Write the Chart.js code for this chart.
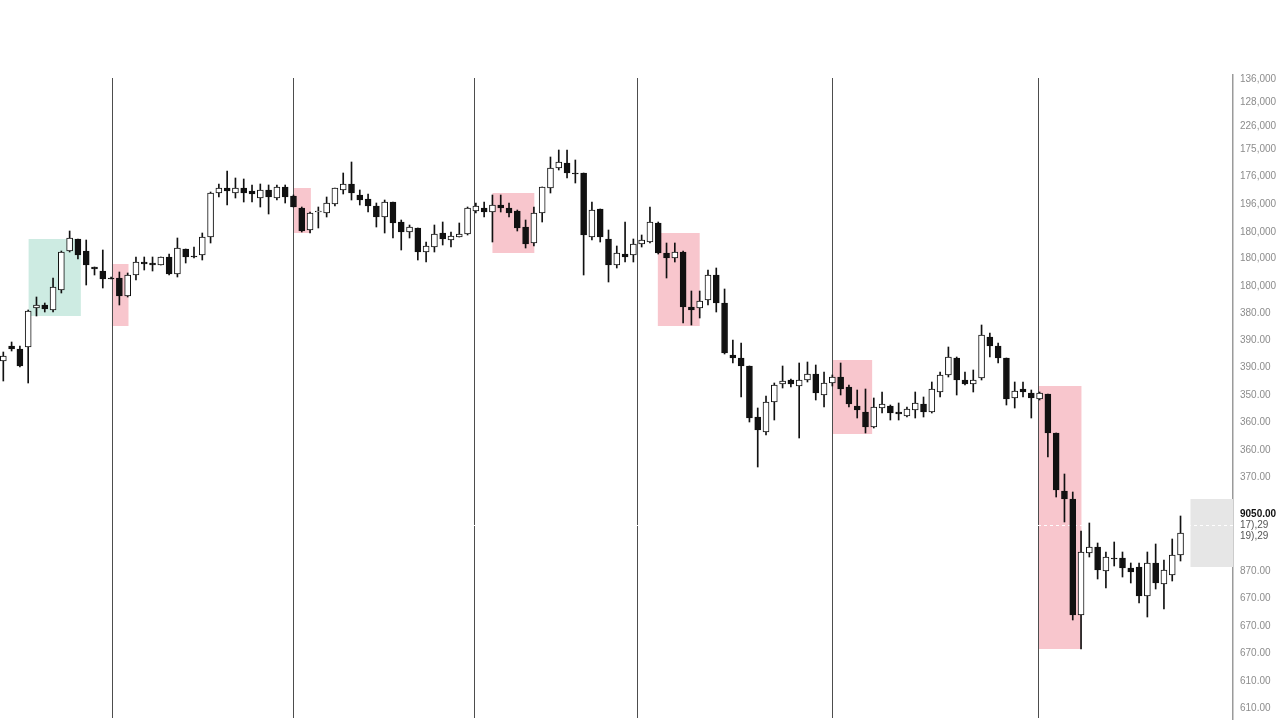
<!DOCTYPE html>
<html>
<head>
<meta charset="utf-8">
<script src="https://cdn.jsdelivr.net/npm/chart.js@4.4.1/dist/chart.umd.min.js"></script>
<style>
  html, body { margin: 0; padding: 0; background: #fff; }
  canvas { display: block; }
</style>
</head>
<body>
<canvas id="candles" width="1280" height="720"></canvas>
<script>
// candle values, one entry per bar, oldest first
const candleOpen = [
  359, 374, 371, 373, 412, 415, 410, 430, 469, 481,
  469, 453, 449, 442, 442, 424, 445, 458, 457, 455,
  463, 446, 471, 464, 465, 483, 527, 532, 527, 532,
  529, 522, 530, 522, 533, 524, 512, 490, 508, 507,
  516, 530, 536, 525, 521, 514, 503, 518, 498, 488,
  492, 468, 473, 487, 480, 483, 486, 509, 512, 508,
  515, 512, 509, 493, 477, 507, 532, 552, 557, 547,
  547, 483, 511, 481, 455, 466, 465, 476, 478, 497,
  467, 462, 468, 413, 412, 420, 445, 417, 365, 362,
  354, 303, 288, 318, 336, 340, 334, 340, 346, 325,
  337, 343, 333, 314, 308, 293, 312, 314, 308, 304,
  310, 316, 308, 328, 345, 362, 340, 336, 342, 383,
  374, 362, 322, 331, 327, 321, 326, 287, 229, 221,
  105, 167, 173, 149, 162, 162, 152, 153, 124, 157,
  136, 145, 165
];
const candleHigh = [
  368, 378, 374, 410, 423, 417, 442, 469, 489, 481,
  480, 453, 470, 443, 448, 447, 463, 463, 463, 463,
  466, 482, 471, 473, 487, 528, 536, 549, 542, 541,
  535, 536, 535, 535, 535, 525, 513, 508, 513, 523,
  532, 547, 558, 530, 526, 517, 520, 518, 500, 495,
  492, 478, 495, 498, 488, 497, 513, 517, 518, 525,
  525, 517, 510, 500, 513, 533, 563, 570, 570, 560,
  547, 518, 511, 490, 474, 498, 481, 485, 513, 498,
  477, 477, 469, 429, 429, 450, 452, 431, 380, 377,
  354, 312, 324, 337, 354, 341, 357, 358, 355, 348,
  345, 357, 335, 330, 331, 322, 328, 315, 317, 313,
  328, 323, 338, 348, 373, 363, 348, 350, 395, 387,
  377, 362, 338, 338, 330, 328, 326, 287, 246, 228,
  189, 197, 177, 168, 178, 168, 157, 157, 168, 176,
  160, 181, 204
];
const candleLow = [
  339, 369, 353, 337, 404, 408, 408, 427, 468, 461,
  435, 445, 432, 441, 415, 423, 440, 450, 449, 455,
  445, 443, 457, 462, 460, 477, 523, 515, 522, 518,
  518, 513, 506, 520, 517, 513, 488, 487, 492, 503,
  514, 526, 520, 515, 508, 493, 487, 482, 470, 482,
  460, 458, 468, 475, 473, 483, 485, 507, 503, 478,
  508, 503, 489, 472, 474, 498, 527, 550, 542, 537,
  445, 480, 478, 438, 452, 458, 458, 473, 477, 466,
  442, 458, 397, 395, 402, 415, 408, 366, 357, 323,
  298, 253, 285, 300, 332, 333, 282, 338, 320, 313,
  334, 325, 313, 302, 287, 292, 307, 300, 300, 303,
  302, 303, 307, 323, 343, 325, 335, 328, 340, 363,
  357, 315, 312, 323, 302, 320, 263, 223, 198, 100,
  71, 163, 141, 132, 154, 143, 137, 117, 103, 131,
  111, 139, 159
];
const candleClose = [
  364, 371, 354, 409, 415, 411, 433, 468, 482, 465,
  455, 451, 441, 441, 424, 445, 458, 456, 455, 463,
  446, 472, 463, 463, 483, 527, 532, 529, 532, 527,
  526, 530, 523, 533, 523, 513, 489, 507, 509, 517,
  532, 536, 527, 520, 514, 503, 518, 497, 488, 493,
  468, 474, 486, 481, 484, 486, 512, 514, 508, 515,
  512, 507, 492, 476, 507, 533, 552, 558, 547, 546,
  485, 510, 483, 455, 467, 463, 476, 480, 498, 467,
  462, 468, 413, 410, 419, 445, 417, 367, 362, 354,
  302, 290, 318, 335, 339, 336, 340, 346, 327, 337,
  343, 331, 316, 310, 293, 313, 316, 307, 306, 311,
  317, 308, 331, 345, 363, 340, 336, 340, 385, 374,
  362, 321, 329, 328, 322, 327, 287, 230, 221, 105,
  168, 173, 150, 163, 161, 152, 148, 124, 157, 137,
  150, 165, 187
];

// right axis ticks (labels as printed on the chart)
const tickValues = [641, 618, 594, 571, 544, 516, 488, 462, 434, 407, 380, 353, 325, 298, 270, 243, 149, 122, 94, 67, 39, 12];
const tickLabels = [
  '136,000', '128,000', '226,000', '175,000', '176,000', '196,000', '180,000', '180,000', '180,000',
  '380.00', '390.00', '390.00', '350.00', '360.00', '360.00', '370.00',
  '870.00', '670.00', '670.00', '670.00', '610.00', '610.00'
];

// session separators, in bar index units
const sessionLines = [13.1, 34.9, 56.8, 76.45, 100, 124.8];

// highlighted zones: from/to bar index, upper/lower price, kind
const zoneFrom = [3.05, 13.1, 35.0, 59.0, 78.95, 100.0, 124.9];
const zoneTo = [9.35, 15.1, 37.1, 64.05, 84.0, 104.8, 130.05];
const zoneHigh = [481, 456, 532, 527, 487, 360, 334];
const zoneLow = [404, 394, 487, 467, 394, 286, 71];
const zoneKind = ['up', 'down', 'down', 'down', 'down', 'down', 'down'];

// last price marker
const lastLevel = 195;
const lastBoxFrom = 143.2;
const lastBoxHigh = 221;
const lastBoxLow = 153;
const lastLabels = ['9050.00', '17),29', '19),29'];

const xMin = -0.4;
const xMax = 148.33;

const bodyData = candleOpen.map((o, i) => ({ x: i, y: [Math.min(o, candleClose[i]), Math.max(o, candleClose[i])] }));
const wickData = candleHigh.map((h, i) => ({ x: i, y: [candleLow[i], h] }));
const bodyFill = candleOpen.map((o, i) => candleClose[i] >= o ? '#ffffff' : '#111111');

const overlay = {
    id: 'overlay',
    beforeDatasetsDraw(chart) {
        const { ctx, chartArea, scales: { x, y } } = chart;
        ctx.save();
        for (let i = 0; i < zoneFrom.length; i++) {
            const x0 = x.getPixelForValue(zoneFrom[i]);
            const x1 = x.getPixelForValue(zoneTo[i]);
            const y0 = y.getPixelForValue(zoneHigh[i]);
            const y1 = y.getPixelForValue(zoneLow[i]);
            ctx.fillStyle = zoneKind[i] === 'up' ? 'rgba(90, 190, 160, 0.30)' : 'rgba(239, 120, 135, 0.42)';
            ctx.fillRect(x0, y0, x1 - x0, y1 - y0);
        }
        // last price box
        const gx = x.getPixelForValue(lastBoxFrom);
        const gy0 = y.getPixelForValue(lastBoxHigh);
        const gy1 = y.getPixelForValue(lastBoxLow);
        ctx.fillStyle = '#e6e6e6';
        ctx.fillRect(gx, gy0, chartArea.right - gx, gy1 - gy0);

        ctx.strokeStyle = '#4d4d4d';
        ctx.lineWidth = 1;
        sessionLines.forEach(v => {
            const px = Math.round(x.getPixelForValue(v)) + 0.5;
            ctx.beginPath();
            ctx.moveTo(px, y.getPixelForValue(642));
            ctx.lineTo(px, y.getPixelForValue(2));
            ctx.stroke();
        });

        const ly = Math.round(y.getPixelForValue(lastLevel)) + 0.5;
        ctx.strokeStyle = 'rgba(255, 255, 255, 0.95)';
        ctx.setLineDash([3, 3]);
        ctx.beginPath();
        ctx.moveTo(chartArea.left, ly);
        ctx.lineTo(chartArea.right, ly);
        ctx.stroke();
        ctx.restore();
    },
    afterDraw(chart) {
        const { ctx, chartArea, scales: { y } } = chart;
        ctx.save();
        ctx.textBaseline = 'middle';
        ctx.textAlign = 'left';
        const tx = chartArea.right + 7;
        const ly = y.getPixelForValue(lastLevel);
        ctx.font = 'bold 10px "Liberation Sans", Arial, sans-serif';
        ctx.fillStyle = '#111';
        ctx.fillText(lastLabels[0], tx, ly - 11);
        ctx.font = '10px "Liberation Sans", Arial, sans-serif';
        ctx.fillStyle = '#555';
        ctx.fillText(lastLabels[1], tx, ly);
        ctx.fillText(lastLabels[2], tx, ly + 11);
        ctx.restore();
    }
};

const ctx = document.getElementById('candles').getContext('2d');
new Chart(ctx, {
    type: 'bar',
    data: {
        datasets: [{
            label: 'wick',
            data: wickData,
            backgroundColor: '#111111',
            barThickness: 1,
            grouped: false,
            order: 2
        }, {
            label: 'body',
            data: bodyData,
            backgroundColor: bodyFill,
            borderColor: '#111111',
            borderWidth: 1,
            borderSkipped: false,
            barThickness: 6,
            grouped: false,
            order: 1
        }]
    },
    options: {
        responsive: false,
        animation: false,
        layout: { padding: { top: 75, left: 0, right: 0, bottom: 0 } },
        plugins: {
            legend: { display: false },
            tooltip: { enabled: false }
        },
        scales: {
            x: {
                type: 'linear',
                min: xMin,
                max: xMax,
                offset: false,
                display: false
            },
            y: {
                position: 'right',
                min: 0,
                max: 645,
                grid: { display: false, drawTicks: false },
                border: { display: true, color: '#9a9a9a', width: 1.5 },
                ticks: {
                    autoSkip: false,
                    padding: 7,
                    color: '#8c8c8c',
                    font: { size: 10, family: '"Liberation Sans", Arial, sans-serif' },
                    callback: (v) => {
                        const k = tickValues.indexOf(v);
                        return k >= 0 ? tickLabels[k] : '';
                    }
                },
                afterBuildTicks: (scale) => {
                    scale.ticks = tickValues.map(v => ({ value: v }));
                },
                afterFit: (scale) => {
                    scale.width = 47;
                    scale.paddingTop = 0;
                    scale.paddingBottom = 0;
                }
            }
        }
    },
    plugins: [overlay]
});
</script>
</body>
</html>
